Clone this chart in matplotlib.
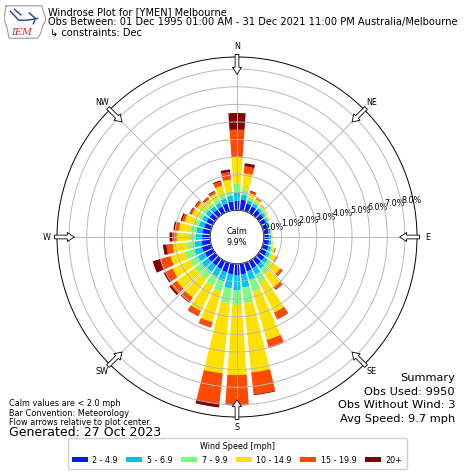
import numpy as np
import matplotlib
matplotlib.use("Agg")
import matplotlib.pyplot as plt
from matplotlib.patches import Patch

# direction bins (deg, meteorological) and frequency [%] for each speed bin
directions = np.arange(0, 360, 10)
spd_2_5 = [0.54, 0.6, 0.45, 0.4, 0.35, 0.33, 0.3, 0.28, 0.28, 0.28, 0.3, 0.33,
           0.35, 0.4, 0.42, 0.45, 0.5, 0.6, 0.63, 0.6, 0.55, 0.5, 0.48, 0.5,
           0.5, 0.55, 0.5, 0.45, 0.45, 0.42, 0.4, 0.4, 0.38, 0.4, 0.45, 0.5]
spd_5_7 = [0.48, 0.3, 0.2, 0.2, 0.17, 0.15, 0.13, 0.12, 0.12, 0.12, 0.13, 0.17,
           0.2, 0.25, 0.3, 0.4, 0.5, 0.75, 0.85, 0.8, 0.55, 0.5, 0.45, 0.45,
           0.45, 0.45, 0.4, 0.35, 0.35, 0.3, 0.28, 0.27, 0.25, 0.25, 0.3, 0.33]
spd_7_10 = [0.48, 0.3, 0.15, 0.12, 0.1, 0.08, 0.06, 0.05, 0.05, 0.06, 0.07, 0.1,
            0.15, 0.25, 0.35, 0.5, 0.7, 0.9, 0.85, 0.85, 0.6, 0.55, 0.5, 0.5,
            0.5, 0.55, 0.45, 0.4, 0.35, 0.3, 0.25, 0.23, 0.2, 0.22, 0.25, 0.25]
spd_10_15 = [1.52, 0.9, 0.25, 0.15, 0.1, 0.08, 0.06, 0.05, 0.04, 0.04, 0.05, 0.12,
             0.25, 0.6, 0.9, 1.9, 2.85, 3.95, 3.97, 4.0, 1.8, 1.6, 1.3, 1.25,
             1.1, 0.85, 0.8, 0.7, 0.65, 0.55, 0.4, 0.38, 0.3, 0.35, 0.5, 0.67]
spd_15_20 = [1.54, 0.4, 0.1, 0.05, 0.02, 0.01, 0.0, 0.0, 0.0, 0.0, 0.01, 0.04,
             0.08, 0.15, 0.2, 0.4, 0.45, 1.25, 1.65, 1.7, 0.3, 0.3, 0.3, 0.4,
             0.4, 0.6, 0.35, 0.25, 0.2, 0.15, 0.1, 0.12, 0.1, 0.12, 0.25, 0.43]
spd_20p = [0.95, 0.18, 0.05, 0.02, 0.01, 0.0, 0.0, 0.0, 0.0, 0.0, 0.0, 0.01,
           0.02, 0.03, 0.03, 0.03, 0.03, 0.05, 0.08, 0.25, 0.02, 0.03, 0.05, 0.12,
           0.15, 0.45, 0.2, 0.15, 0.1, 0.08, 0.05, 0.05, 0.04, 0.05, 0.07, 0.15]

bin_labels = ["2 - 4.9", "5 - 6.9", "7 - 9.9", "10 - 14.9", "15 - 19.9", "20+"]
bin_colors = ["#0019ff", "#00c3f5", "#7dfa82", "#ffe100", "#ff4a00", "#800000"]
rings = [0, 1, 2, 3, 4, 5, 6, 7, 8]
compass = ["N", "NE", "E", "SE", "S", "SW", "W", "NW"]

fig = plt.figure(figsize=(4.74, 4.74), dpi=100)
ax = fig.add_axes([57 / 474, 57 / 474, 360 / 474, 360 / 474], projection="polar")
ax.set_theta_zero_location("N")
ax.set_theta_direction(-1)

theta = np.radians(directions)
bottom = np.zeros(len(directions))
for vals, col in zip([spd_2_5, spd_5_7, spd_7_10, spd_10_15, spd_15_20, spd_20p], bin_colors):
    vals = np.array(vals)
    ax.bar(theta, vals, width=np.radians(8), bottom=bottom, color=col,
           linewidth=0, zorder=1)
    bottom = bottom + vals

ax.set_rorigin(-1.53)
ax.set_ylim(0, 8.69)
ax.set_axisbelow(False)
ax.set_rgrids(rings, labels=["%.1f%%" % r for r in rings], fontsize=5.8)
ax.set_rlabel_position(79)
ax.set_thetagrids(range(0, 360, 45), labels=[""] * 8)
ax.grid(color="#b8b8b8", lw=0.7)
ax.spines["polar"].set_linewidth(0.7)

# compass labels and flow arrows
for i, lab in enumerate(compass):
    a = np.radians(i * 45)
    s, c = np.sin(a), np.cos(a)
    ax.text(0.5 + 0.53 * s, 0.5 + 0.53 * c, lab, transform=ax.transAxes,
            ha="center", va="center", fontsize=5.8)
    ax.annotate("", xy=(0.5 + 0.452 * s, 0.5 + 0.452 * c),
                xytext=(0.5 + 0.507 * s, 0.5 + 0.507 * c),
                xycoords="axes fraction", textcoords="axes fraction",
                arrowprops=dict(arrowstyle="simple,head_width=0.65,head_length=0.5,tail_width=0.27",
                                fc="white", ec="black", lw=0.6, mutation_scale=10,
                                shrinkA=0, shrinkB=0))

ax.text(0.5, 0.5, "Calm\n9.9%", transform=ax.transAxes, ha="center", va="center",
        fontsize=5.8)

# header
fig.text(48 / 474, 1 - 12.5 / 474, "Windrose Plot for [YMEN] Melbourne", fontsize=7.1, va="center")
fig.text(48 / 474, 1 - 22.5 / 474,
         "Obs Between: 01 Dec 1995 01:00 AM - 31 Dec 2021 11:00 PM Australia/Melbourne",
         fontsize=7.1, va="center")
fig.text(50 / 474, 1 - 32.5 / 474, "\u21b3 constraints: Dec", fontsize=7.1, va="center")

# logo
lax = fig.add_axes([4 / 474, 1 - 40 / 474, 42 / 474, 36 / 474])
lax.axis("off")
lax.set_xlim(0, 1)
lax.set_ylim(0, 1)
ox = [0.05, 0.9, 0.92, 0.97, 1.0, 0.92, 0.88, 0.8, 0.12, 0.08, 0.0, 0.05]
oy = [0.95, 0.95, 0.85, 0.7, 0.55, 0.4, 0.2, 0.05, 0.05, 0.3, 0.6, 0.95]
lax.plot(ox, oy, color="#9a9a9a", lw=0.8)
lax.plot([0.15, 0.35, 0.55, 0.8], [0.8, 0.55, 0.55, 0.6], color="#1f3f9f", lw=1.0)
lax.plot([0.25, 0.4], [0.85, 0.7], color="#1f3f9f", lw=1.0)
lax.plot([0.6, 0.75, 0.7], [0.75, 0.6, 0.45], color="#1f3f9f", lw=1.0)
lax.text(0.42, 0.22, "IEM", color="#cc2222", fontsize=7, family="serif",
         style="italic", ha="center", va="center")

# footer notes
fig.text(9 / 474, 1 - 403 / 474, "Calm values are < 2.0 mph", fontsize=5.9, va="center")
fig.text(9 / 474, 1 - 413 / 474, "Bar Convention: Meteorology", fontsize=5.9, va="center")
fig.text(9 / 474, 1 - 422.5 / 474, "Flow arrows relative to plot center.", fontsize=5.9, va="center")
fig.text(9 / 474, 1 - 433 / 474, "Generated: 27 Oct 2023", fontsize=9, va="center")

fig.text(455 / 474, 1 - 378 / 474, "Summary", fontsize=8.2, ha="right", va="center")
fig.text(455 / 474, 1 - 392 / 474, "Obs Used: 9950", fontsize=8.2, ha="right", va="center")
fig.text(455 / 474, 1 - 405.5 / 474, "Obs Without Wind: 3", fontsize=8.2, ha="right", va="center")
fig.text(455 / 474, 1 - 419 / 474, "Avg Speed: 9.7 mph", fontsize=8.2, ha="right", va="center")

handles = [Patch(facecolor=c, label=l) for c, l in zip(bin_colors, bin_labels)]
leg = fig.legend(handles=handles, loc="center", bbox_to_anchor=(0.5, 1 - 453.5 / 474),
                 ncol=6, fontsize=5.8, title="Wind Speed [mph]", title_fontsize=5.8,
                 handlelength=2.0, handleheight=0.5, columnspacing=1.0, handletextpad=0.6,
                 borderpad=0.5, framealpha=1, edgecolor="#d0d0d0")

fig.savefig("out.png", dpi=100)
